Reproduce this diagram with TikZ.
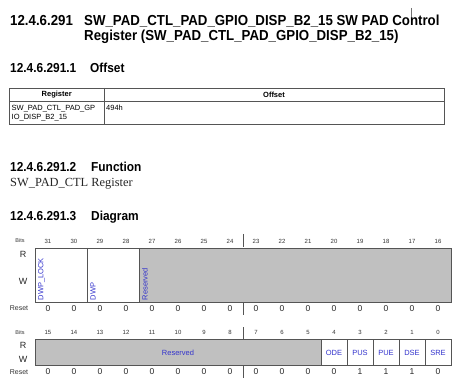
\documentclass[tikz,border=0pt]{standalone}
\usepackage{fontspec}
\setmainfont{Liberation Serif}
\setsansfont{Liberation Sans}
\newfontfamily\condsans[FakeStretch=0.915]{Liberation Sans}
\definecolor{fieldblue}{RGB}{51,51,204}
\definecolor{resgray}{RGB}{192,192,192}
\definecolor{edgegray}{RGB}{85,85,85}
\begin{document}
\begin{tikzpicture}[x=1pt,y=-1pt,
  titletext/.style={font=\condsans\bfseries\fontsize{14.5}{17}\selectfont, anchor=base west, inner sep=0pt},
  headtext/.style={font=\condsans\bfseries\fontsize{13}{15}\selectfont, anchor=base west, inner sep=0pt},
  bodytext/.style={font=\rmfamily\fontsize{12.4}{15}\selectfont, text=black!85, anchor=base west, inner sep=0pt},
  tbltext/.style={font=\sffamily\fontsize{7.5}{9}\selectfont, inner sep=0pt},
  tblline/.style={draw=edgegray, line width=0.7pt},
  bitnum/.style={font=\sffamily\fontsize{6}{7}\selectfont, text=black!80, inner sep=0pt},
  rwtext/.style={font=\sffamily\fontsize{9}{10}\selectfont, text=black!85, inner sep=0pt},
  resettext/.style={font=\sffamily\fontsize{7}{8}\selectfont, text=black!80, inner sep=0pt},
  resetval/.style={font=\sffamily\fontsize{8.5}{10}\selectfont, text=black!85, inner sep=0pt},
  fieldtext/.style={font=\sffamily\fontsize{7.5}{9}\selectfont, text=fieldblue, inner sep=0pt},
  regbox/.style={draw=edgegray, line width=0.8pt},
  halfline/.style={draw=edgegray, line width=0.6pt}
]
\useasboundingbox (0,0) rectangle (474,382);
% caret
\draw[black!55, line width=0.5pt] (411,8) -- (411,23);
% Title
\node[titletext] (t1) at (10,25.5) {12.4.6.291};
\node[titletext] (t2) at (84,25.5) {SW\_PAD\_CTL\_PAD\_GPIO\_DISP\_B2\_15 SW PAD Control};
\node[titletext] (t3) at (84,40.5) {Register (SW\_PAD\_CTL\_PAD\_GPIO\_DISP\_B2\_15)};
% Offset
\node[headtext] (h1) at (10,73) {12.4.6.291.1};
\node[headtext] (h1b) at (90,73) {Offset};
\draw[tblline] (9.5,88) rectangle (444,124);
\draw[tblline] (9.5,101) -- (444,101);
\draw[tblline] (104,88) -- (104,124);
\node[tbltext, font=\sffamily\bfseries\fontsize{7.5}{9}\selectfont] (th1) at (56.75,94.5) {Register};
\node[tbltext, font=\sffamily\bfseries\fontsize{7.5}{9}\selectfont] (th2) at (274,94.5) {Offset};
\node[tbltext, anchor=base west] (td1) at (11.5,111) {SW\_PAD\_CTL\_PAD\_GP};
\node[tbltext, anchor=base west] (td2) at (11.5,120) {IO\_DISP\_B2\_15};
\node[tbltext, anchor=base west] (td3) at (106,111) {494h};
% Function
\node[headtext] (h2) at (10,172) {12.4.6.291.2};
\node[headtext] (h2b) at (91,172) {Function};
\node[bodytext] (f1) at (10,186.5) {SW\_PAD\_CTL Register};
% Diagram
\node[headtext] (h3) at (10,221) {12.4.6.291.3};
\node[headtext] (h3b) at (91,221) {Diagram};

% ---------- upper register (bits 31-16)
\node[bitnum, font=\sffamily\fontsize{5.5}{6}\selectfont] (bitsA) at (20,241) {Bits};
\foreach \i in {0,...,15}{
  \pgfmathtruncatemacro{\b}{31-\i}
  \node[bitnum] (ba\i) at (48+26*\i,241) {\b};
  \node[resetval] (ra\i) at (48+26*\i,308.5) {0};
}
\fill[resgray] (139,248) rectangle (451,302);
\draw[regbox] (35,248) rectangle (451,302);
\draw[regbox] (87,248) -- (87,302);
\draw[regbox] (139,248) -- (139,302);
\node[rwtext] (rA) at (23,254.5) {R};
\node[rwtext] (wA) at (23,281) {W};
\node[resettext] (resA) at (19,308.5) {Reset};
\node[fieldtext, rotate=90, anchor=west] (dwplock) at (41.5,300.5) {DWP\_LOCK};
\node[fieldtext, rotate=90, anchor=west] (dwp) at (93,300.5) {DWP};
\node[fieldtext, rotate=90, anchor=west] (resv1) at (145,300.5) {Reserved};
\draw[halfline] (243,234) -- (243,247.5);
\draw[halfline] (243,302.5) -- (243,315);

% ---------- lower register (bits 15-0)
\node[bitnum, font=\sffamily\fontsize{5.5}{6}\selectfont] (bitsB) at (20,332.5) {Bits};
\foreach \i/\v in {0/0,1/0,2/0,3/0,4/0,5/0,6/0,7/0,8/0,9/0,10/0,11/0,12/1,13/1,14/1,15/0}{
  \pgfmathtruncatemacro{\b}{15-\i}
  \node[bitnum] (bb\i) at (48+26*\i,332.5) {\b};
  \node[resetval] (rb\i) at (48+26*\i,372) {\v};
}
\fill[resgray] (35,339) rectangle (321,365);
\draw[regbox] (35,339) rectangle (451,365);
\foreach \x in {321,347,373,399,425}{
  \draw[regbox] (\x,339) -- (\x,365);
}
\node[rwtext] (rB) at (23,345.5) {R};
\node[rwtext] (wB) at (23,359) {W};
\node[resettext] (resB) at (19,372) {Reset};
\node[fieldtext] (resv2) at (178,352.5) {Reserved};
\node[fieldtext] (ode) at (334,352.5) {ODE};
\node[fieldtext] (pus) at (360,352.5) {PUS};
\node[fieldtext] (pue) at (386,352.5) {PUE};
\node[fieldtext] (dse) at (412,352.5) {DSE};
\node[fieldtext] (sre) at (438,352.5) {SRE};
\draw[halfline] (243,327) -- (243,339);
\draw[halfline] (243,365) -- (243,378);
\end{tikzpicture}
\end{document}
